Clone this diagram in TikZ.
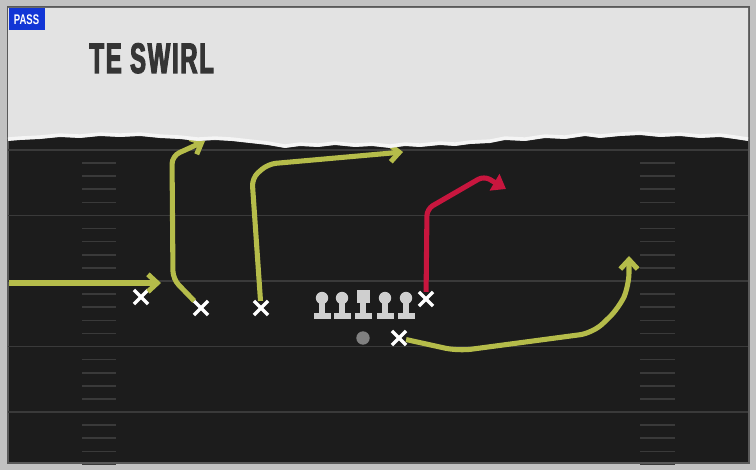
\documentclass[tikz,border=0pt]{standalone}
\usepackage{fontspec}
\usetikzlibrary{arrows.meta,shapes.misc}
\newfontfamily\titlefont{Liberation Sans}[FakeStretch=0.56,FakeBold=2.5,LetterSpace=4]
\newfontfamily\tagfont{Liberation Sans}[FakeStretch=0.68]
\definecolor{framegrey}{HTML}{C2C2C2}
\definecolor{field}{HTML}{1C1C1C}
\definecolor{paper}{HTML}{E3E3E3}
\definecolor{yardline}{HTML}{3A3A3A}
\definecolor{routeyellow}{HTML}{B5BC4A}
\definecolor{routered}{HTML}{C8163E}
\definecolor{linegrey}{HTML}{CFCFCF}
\definecolor{tagblue}{HTML}{1236D6}
\definecolor{titlegrey}{HTML}{353535}

\tikzset{every picture/.style={line width=0.75pt}}
\tikzset{
  xmark/.style={cross out,draw=white,line width=2.6,minimum size=8,inner sep=0pt},
  qbdot/.style={circle,fill=black!50,minimum size=10,inner sep=0pt},
  route/.style={draw=routeyellow,line width=3.8,rounded corners=6,
    -{Straight Barb[length=7,width=13,line width=3.8]}},
  hotroute/.style={draw=routered,line width=3.8,rounded corners=5,
    -{Triangle[length=10,width=14]}},
  lineman/.pic={
    \fill[linegrey] (-3.2,7) rectangle (3.2,-9);
    \fill[linegrey] (0,7) circle (6.2);
    \fill[linegrey] (-8.5,-7.5) rectangle (8.5,-14);
  },
  snapper/.pic={
    \fill[linegrey] (-3.2,7) rectangle (3.2,-9);
    \fill[linegrey] (-6.5,15) rectangle (6.5,2);
    \fill[linegrey] (-8.5,-7.5) rectangle (8.5,-14);
  }
}

\begin{document}
\begin{tikzpicture}[x=0.75pt,y=0.75pt,yscale=-1,xscale=1]
\useasboundingbox (0,0) rectangle (756,470);

%Frame and field
\fill[framegrey] (0,0) rectangle (756,470);
\fill[field] (8,8) rectangle (748,462);
\draw[black!65,line width=1.5] (7.5,7.5) rectangle (748.5,462.5);

%Yard lines and hash marks
\foreach \k in {0,...,4}{
  \draw[yardline,line width=1.2] (8,150+65.5*\k) -- (748,150+65.5*\k);
  \foreach \j in {1,...,4}{
    \draw[yardline,line width=1.2] (82,150+65.5*\k+13.1*\j) -- (116,150+65.5*\k+13.1*\j);
    \draw[yardline,line width=1.2] (640,150+65.5*\k+13.1*\j) -- (675,150+65.5*\k+13.1*\j);
  }
}

%Players
\node[xmark] (wrOut) at (141,297) {};
\node[xmark] (wrMid) at (201,308) {};
\node[xmark] (wrIn) at (261,308) {};
\node[xmark] (te) at (426,299) {};
\node[xmark] (rb) at (399,338) {};
\node[qbdot] (qb) at (363,338) {};
\foreach \x in {322,342,385,406}
  \pic at (\x,305) {lineman};
\pic at (363,305) {snapper};

%Route ends
\coordinate (flatStart) at (9,283);
\coordinate (flatEnd) at (161,283);
\coordinate (goEnd) at (205,141);
\coordinate (postEnd) at (403,152);
\coordinate (swirlEnd) at (506,189);
\coordinate (wheelEnd) at (629,256);

%Routes
\draw[route] (flatStart) -- (flatEnd);
\draw[route] (wrMid) -- (173,279) -- (172,156) -- (goEnd);
\draw[route] (wrIn) -- (252,178) -- (268,164) -- (postEnd);
\draw[hotroute] (te) -- (427,209) -- (484,176) -- (swirlEnd);
\draw[route,rounded corners=10] (rb) -- (458,351) -- (593,333) -- (619,308) -- (629,286) -- (wheelEnd);

%Torn paper
\fill[paper] (8,8) -- (748,8) -- (748,141) -- (735,139) -- (720,137) -- (700,138) -- (680,136) -- (660,137) -- (640,135) -- (620,136) -- (600,138) -- (585,136) -- (565,139) -- (545,138) -- (525,141) -- (505,140) -- (490,143) -- (470,144) -- (455,146) -- (440,145) -- (420,147) -- (405,146) -- (390,148) -- (372,146) -- (355,147) -- (335,145) -- (318,147) -- (300,146) -- (285,148) -- (268,145) -- (250,143) -- (232,141) -- (215,140) -- (198,141) -- (180,139) -- (160,138) -- (140,136) -- (120,137) -- (100,136) -- (80,138) -- (60,137) -- (40,139) -- (20,140) -- (8,141) -- cycle;
\draw[white!96!black,line width=2.5] (748,139) -- (735,137) -- (720,135) -- (700,136) -- (680,134) -- (660,135) -- (640,133) -- (620,134) -- (600,136) -- (585,134) -- (565,137) -- (545,136) -- (525,139) -- (505,138) -- (490,141) -- (470,142) -- (455,144) -- (440,143) -- (420,145) -- (405,144) -- (390,146) -- (372,144) -- (355,145) -- (335,143) -- (318,145) -- (300,144) -- (285,146) -- (268,143) -- (250,141) -- (232,139) -- (215,138) -- (198,139) -- (180,137) -- (160,136) -- (140,134) -- (120,135) -- (100,134) -- (80,136) -- (60,135) -- (40,137) -- (20,138) -- (8,139);

%Labels
\node[fill=tagblue,anchor=north west,minimum width=27pt,minimum height=16.5pt,inner sep=0pt,text=white,font=\tagfont\bfseries\fontsize{10.5}{10.5}\selectfont] (tag) at (8,8) {PASS};
\node[anchor=base west,inner sep=0pt,text=titlegrey,font=\titlefont\bfseries\fontsize{32}{32}\selectfont] (title) at (89,73) {TE SWIRL};

\end{tikzpicture}
\end{document}
